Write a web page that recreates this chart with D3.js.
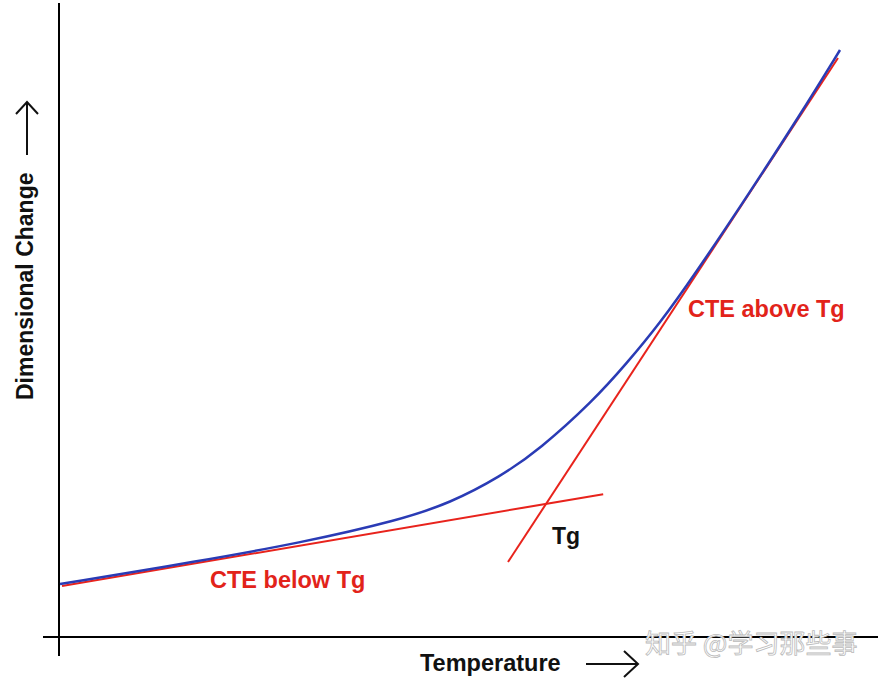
<!DOCTYPE html>
<html>
<head>
<meta charset="utf-8">
<script src="https://cdn.jsdelivr.net/npm/d3@7"></script>
<style>
  body { margin: 0; background: #fff; }
  text { font-family: "Liberation Sans", Arial, sans-serif; font-weight: bold; }
</style>
</head>
<body>
<div id="chart"></div>
<script>
// measured curve (temperature vs dimensional change, arbitrary units)
var blueTemp = [0, 17.5, 30, 42.5, 48.75, 55, 60, 66.63, 70.88, 75, 79.13, 86.25, 92.5, 97.5];
var blueDim  = [8.83, 12.67, 15.67, 19.5, 22.33, 26.67, 31.33, 39.33, 45.67, 52.33, 60, 74.17, 87, 97.83];

// tangent lines
var belowTemp = [0.25, 67.9];
var belowDim  = [8.5, 23.8];
var aboveTemp = [56, 97.25];
var aboveDim  = [12.5, 96.5];

var width = 881, height = 679;

var svg = d3.select("#chart")
  .append("svg")
    .attr("width", width)
    .attr("height", height);

var x = d3.scaleLinear().domain([0, 100]).range([60, 860]);
var y = d3.scaleLinear().domain([0, 100]).range([637, 37]);

// axes (plain lines, no ticks)
svg.append("line")
  .attr("x1", 59).attr("x2", 59)
  .attr("y1", 3).attr("y2", 656)
  .attr("stroke", "#000").attr("stroke-width", 2);
svg.append("line")
  .attr("x1", 43).attr("x2", 878)
  .attr("y1", 637).attr("y2", 637)
  .attr("stroke", "#000").attr("stroke-width", 2);

var line = d3.line()
  .x(function(d) { return x(d[0]); })
  .y(function(d) { return y(d[1]); });

// red tangent lines
svg.append("path")
  .datum(d3.zip(belowTemp, belowDim))
  .attr("d", line)
  .attr("fill", "none")
  .attr("stroke", "#e8231c")
  .attr("stroke-width", 2);

svg.append("path")
  .datum(d3.zip(aboveTemp, aboveDim))
  .attr("d", line)
  .attr("fill", "none")
  .attr("stroke", "#e8231c")
  .attr("stroke-width", 2);

// blue curve
svg.append("path")
  .datum(d3.zip(blueTemp, blueDim))
  .attr("d", line.curve(d3.curveBasis))
  .attr("fill", "none")
  .attr("stroke", "#2a3bb5")
  .attr("stroke-width", 2.5);

// labels
svg.append("text")
  .attr("x", 210).attr("y", 588)
  .attr("font-size", "23.5px")
  .attr("fill", "#e2231a")
  .text("CTE below Tg");

svg.append("text")
  .attr("x", 552).attr("y", 544)
  .attr("font-size", "23px")
  .attr("fill", "#111")
  .text("Tg");

svg.append("text")
  .attr("x", 688).attr("y", 317)
  .attr("font-size", "23.5px")
  .attr("fill", "#e2231a")
  .text("CTE above Tg");

// axis titles with arrows
svg.append("text")
  .attr("x", 420).attr("y", 671)
  .attr("font-size", "23.5px")
  .attr("fill", "#111")
  .text("Temperature");

svg.append("text")
  .attr("transform", "rotate(-90)")
  .attr("x", -400).attr("y", 33)
  .attr("font-size", "23px")
  .attr("fill", "#111")
  .text("Dimensional Change");

// arrows
svg.append("line")
  .attr("x1", 586).attr("x2", 637).attr("y1", 664).attr("y2", 664)
  .attr("stroke", "#111").attr("stroke-width", 2);
svg.append("path")
  .attr("d", "M624,651 L638,664 L624,677")
  .attr("fill", "none").attr("stroke", "#111").attr("stroke-width", 2);

svg.append("line")
  .attr("x1", 27).attr("x2", 27).attr("y1", 155).attr("y2", 102)
  .attr("stroke", "#111").attr("stroke-width", 2);
svg.append("path")
  .attr("d", "M16,114 L27,102 L38,114")
  .attr("fill", "none").attr("stroke", "#111").attr("stroke-width", 2);

// watermark
svg.append("text")
  .attr("x", 645).attr("y", 653)
  .attr("font-size", "26px")
  .style("font-family", "'Noto Sans CJK SC', sans-serif")
  .style("font-weight", "normal")
  .attr("fill", "#fff")
  .attr("stroke", "#bbb")
  .attr("stroke-width", 0.8)
  .text("知乎 @学习那些事");
</script>
</body>
</html>
